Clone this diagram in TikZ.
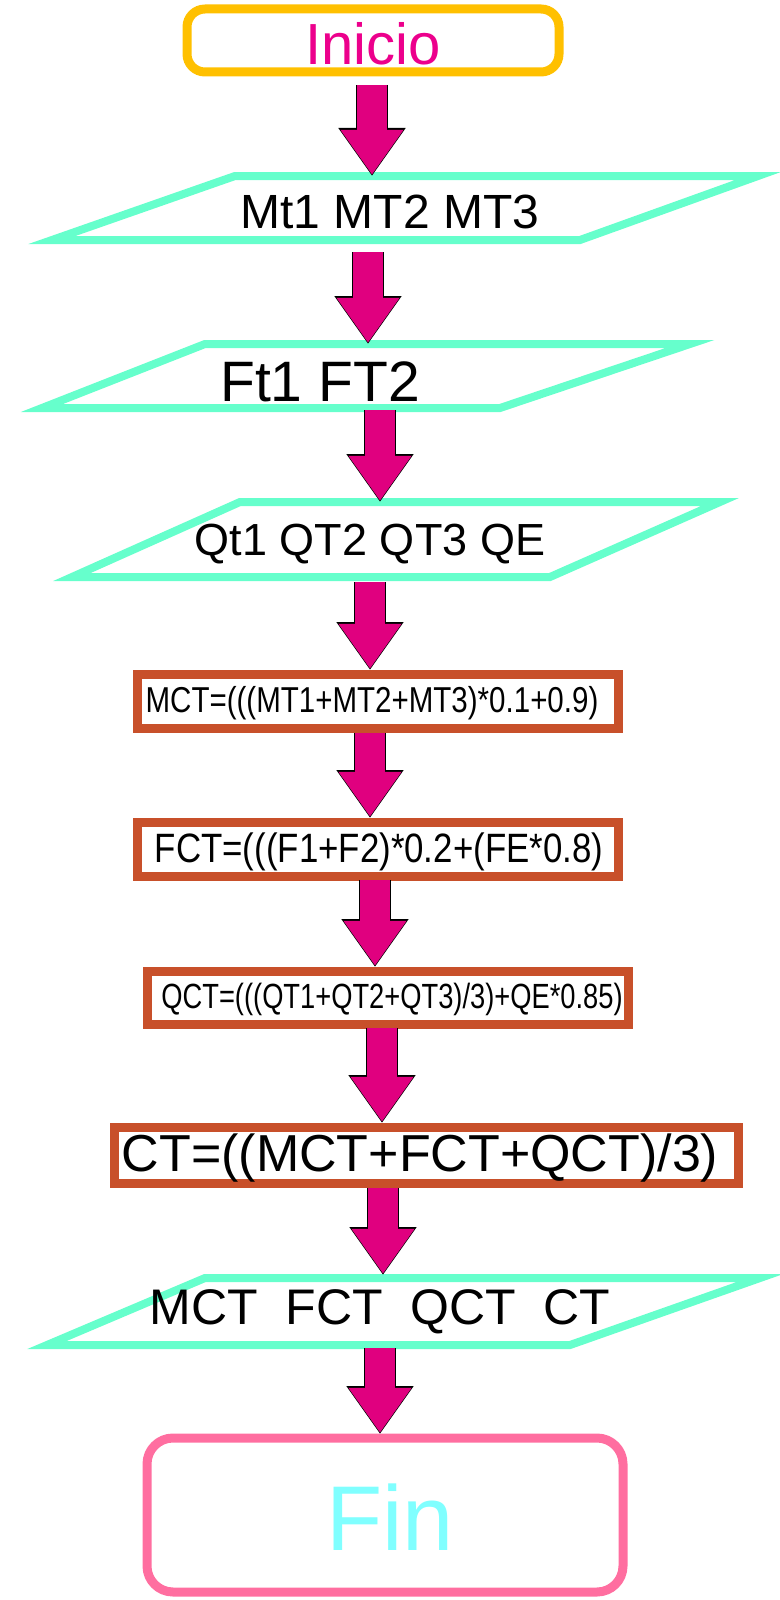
\documentclass[tikz,border=0pt]{standalone}
\usepackage{fontspec}
\setmainfont{Liberation Sans}
\usetikzlibrary{arrows.meta}
\definecolor{orng}{HTML}{FFC000}
\definecolor{mint}{HTML}{66FFCC}
\definecolor{brick}{HTML}{C8502A}
\definecolor{mag}{HTML}{E0007F}
\definecolor{pinkk}{HTML}{FF6EA0}
\definecolor{cyanl}{HTML}{80FFFF}
\tikzset{
 io/.style={draw=mint,line width=8pt,line join=miter},
 proc/.style={draw=brick,line width=9pt},
 term/.style={rounded corners=18pt,line width=9pt},
 lbl/.style={inner sep=0pt,anchor=center},
}
\newcommand{\blk}[2]{%
 \draw[line width=32pt,-{Triangle[width=64pt,length=48pt]}] (#1) -- (#2);
 \draw[mag,line width=30pt,-{Triangle[width=60pt,length=45pt]}] (#1) -- ([yshift=1.2pt]#2);}
\begin{document}
\begin{tikzpicture}[x=1pt,y=-1pt]
\useasboundingbox (0,0) rectangle (779,1600);
% Inicio
\draw[term,draw=orng] (187,9) rectangle (559,72);
\node[lbl,magenta,font=\fontsize{58}{62}\selectfont] (ini) at (373,44) {Inicio};
% Para 1
\draw[io] (235,176) -- (758,176) -- (580,240) -- (52,240) -- cycle;
\node[lbl,font=\fontsize{48}{52}\selectfont] (p1) at (390,212) {Mt1 MT2 MT3};
% Para 2
\draw[io] (205,344) -- (690,344) -- (500,408) -- (42,408) -- cycle;
\node[lbl,font=\fontsize{57}{60}\selectfont] (p2) at (320,382) {Ft1 FT2};
% Para 3
\draw[io] (240,502) -- (720,502) -- (550,577) -- (72,577) -- cycle;
\node[lbl,font=\fontsize{45}{48}\selectfont] (p3) at (370,544) {Qt1 QT2 QT3 QE};
% boxes
\draw[proc] (137,674) rectangle (618,728);
\node[lbl,font=\fontsize{36}{40}\selectfont] (b1) at (372,703) {\scalebox{0.82}[1]{MCT=(((MT1+MT2+MT3)*0.1+0.9)}};
\draw[proc] (137,822) rectangle (618,876);
\node[lbl,font=\fontsize{41}{44}\selectfont] (b2) at (379,852) {\scalebox{0.85}[1]{FCT=(((F1+F2)*0.2+(FE*0.8)}};
\draw[proc] (147,971) rectangle (628,1024);
\node[lbl,font=\fontsize{35}{38}\selectfont] (b3) at (392,999) {\scalebox{0.78}[1]{QCT=(((QT1+QT2+QT3)/3)+QE*0.85)}};
\draw[proc] (114,1127) rectangle (738,1183);
\node[lbl,font=\fontsize{52}{56}\selectfont] (b4) at (420,1158) {CT=((MCT+FCT+QCT)/3)};
% Para 4
\draw[io] (205,1278) -- (760,1278) -- (570,1345) -- (47,1345) -- cycle;
\node[lbl,font=\fontsize{50}{54}\selectfont] (p4) at (380,1312) {MCT\ \ FCT\ \ QCT\ \ CT};
% Fin
\draw[term,draw=pinkk,rounded corners=26pt] (147,1438) rectangle (623,1592);
\node[lbl,cyanl,font=\fontsize{92}{96}\selectfont] (fin) at (390,1517) {Fin};
% arrow coordinates
\coordinate (a1) at (372,85); \coordinate (e1) at (372,176);
\coordinate (a2) at (368,252); \coordinate (e2) at (368,344);
\coordinate (a3) at (380,410); \coordinate (e3) at (380,502);
\coordinate (a4) at (370,582); \coordinate (e4) at (370,670);
\coordinate (a5) at (370,733); \coordinate (e5) at (370,818);
\coordinate (a6) at (375,880); \coordinate (e6) at (375,967);
\coordinate (a7) at (382,1028); \coordinate (e7) at (382,1123);
\coordinate (a8) at (383,1188); \coordinate (e8) at (383,1275);
\coordinate (a9) at (380,1348); \coordinate (e9) at (380,1434);
\blk{a1}{e1}\blk{a2}{e2}\blk{a3}{e3}\blk{a4}{e4}\blk{a5}{e5}
\blk{a6}{e6}\blk{a7}{e7}\blk{a8}{e8}\blk{a9}{e9}
\end{tikzpicture}
\end{document}
